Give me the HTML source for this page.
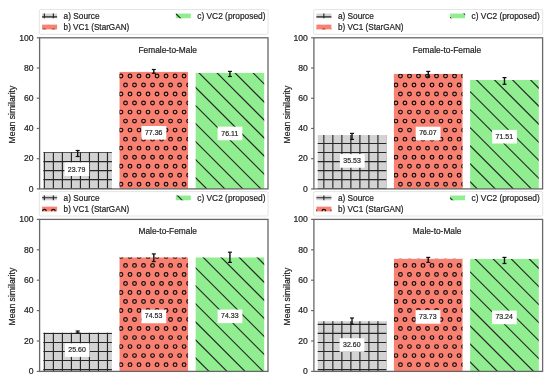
<!DOCTYPE html>
<html><head><meta charset="utf-8"><style>
html,body{margin:0;padding:0;background:#fff;}
svg{display:block;will-change:transform;}
text{font-family:"Liberation Sans",sans-serif;}
</style></head><body>
<svg width="550" height="378" viewBox="0 0 550 378">
<defs><clipPath id="c1"><rect x="42.1" y="13.55" width="15" height="4.7"/></clipPath><clipPath id="c2"><rect x="42.1" y="24.65" width="15" height="4.7"/></clipPath><clipPath id="c3"><rect x="175.8" y="13.55" width="15" height="4.7"/></clipPath><clipPath id="c4"><rect x="43.41" y="152.3" width="68.52" height="36.6"/></clipPath><clipPath id="c5"><rect x="119.54" y="71.9" width="68.52" height="117"/></clipPath><clipPath id="c6"><rect x="195.67" y="72.9" width="68.52" height="116"/></clipPath><clipPath id="c7"><rect x="316.4" y="13.55" width="15" height="4.7"/></clipPath><clipPath id="c8"><rect x="316.4" y="24.65" width="15" height="4.7"/></clipPath><clipPath id="c9"><rect x="450.1" y="13.55" width="15" height="4.7"/></clipPath><clipPath id="c10"><rect x="317.71" y="135.05" width="68.61" height="53.85"/></clipPath><clipPath id="c11"><rect x="393.94" y="73.9" width="68.61" height="115"/></clipPath><clipPath id="c12"><rect x="470.18" y="80" width="68.61" height="108.9"/></clipPath><clipPath id="c13"><rect x="42.1" y="195.55" width="15" height="4.7"/></clipPath><clipPath id="c14"><rect x="42.1" y="206.65" width="15" height="4.7"/></clipPath><clipPath id="c15"><rect x="175.8" y="195.55" width="15" height="4.7"/></clipPath><clipPath id="c16"><rect x="43.41" y="332.7" width="68.52" height="38.7"/></clipPath><clipPath id="c17"><rect x="119.54" y="257.5" width="68.52" height="113.9"/></clipPath><clipPath id="c18"><rect x="195.67" y="257.5" width="68.52" height="113.9"/></clipPath><clipPath id="c19"><rect x="316.4" y="195.55" width="15" height="4.7"/></clipPath><clipPath id="c20"><rect x="316.4" y="206.65" width="15" height="4.7"/></clipPath><clipPath id="c21"><rect x="450.1" y="195.55" width="15" height="4.7"/></clipPath><clipPath id="c22"><rect x="317.71" y="321.2" width="68.61" height="50.2"/></clipPath><clipPath id="c23"><rect x="393.94" y="258.85" width="68.61" height="112.55"/></clipPath><clipPath id="c24"><rect x="470.18" y="258.9" width="68.61" height="112.5"/></clipPath></defs>
<rect width="550" height="378" fill="#fff"/>
<rect x="39.3" y="9.6" width="228.8" height="24.7" rx="1.5" fill="#fff" stroke="#e4e4e4" stroke-width="1"/>
<rect x="42.1" y="13.55" width="15" height="4.7" fill="#d3d3d3"/><g clip-path="url(#c1)" stroke="#262626" stroke-width="1.15"><line x1="26.33" y1="11.55" x2="26.33" y2="20.25"/><line x1="35.34" y1="11.55" x2="35.34" y2="20.25"/><line x1="44.36" y1="11.55" x2="44.36" y2="20.25"/><line x1="53.38" y1="11.55" x2="53.38" y2="20.25"/><line x1="62.39" y1="11.55" x2="62.39" y2="20.25"/><line x1="71.41" y1="11.55" x2="71.41" y2="20.25"/><line x1="40.1" y1="-1.22" x2="59.1" y2="-1.22"/><line x1="40.1" y1="7.82" x2="59.1" y2="7.82"/><line x1="40.1" y1="16.87" x2="59.1" y2="16.87"/><line x1="40.1" y1="25.91" x2="59.1" y2="25.91"/><line x1="40.1" y1="34.95" x2="59.1" y2="34.95"/></g>
<text x="0" y="0" font-size="8.55" text-anchor="start" transform="translate(63.6 18.7) scale(0.9719 1)" fill="#222" stroke="#222" stroke-width="0.2">a) Source</text>
<rect x="42.1" y="24.65" width="15" height="4.7" fill="#fa8072"/><g clip-path="url(#c2)" stroke="#111" stroke-width="1.2" fill="none"><circle cx="39.85" cy="21.88" r="1.85"/><circle cx="48.87" cy="21.88" r="1.85"/><circle cx="57.88" cy="21.88" r="1.85"/><circle cx="44.36" cy="30.9" r="1.85"/><circle cx="53.38" cy="30.9" r="1.85"/></g>
<text x="0" y="0" font-size="8.55" text-anchor="start" transform="translate(63.6 29.8) scale(0.9543 1)" fill="#222" stroke="#222" stroke-width="0.2">b) VC1 (StarGAN)</text>
<rect x="175.8" y="13.55" width="15" height="4.7" fill="#90ee90"/><g clip-path="url(#c3)" stroke="#262626" stroke-width="1.15"><line x1="137.65" y1="11.55" x2="146.35" y2="20.25"/><line x1="155.68" y1="11.55" x2="164.38" y2="20.25"/><line x1="173.71" y1="11.55" x2="182.41" y2="20.25"/><line x1="191.74" y1="11.55" x2="200.44" y2="20.25"/><line x1="209.77" y1="11.55" x2="218.47" y2="20.25"/></g>
<text x="0" y="0" font-size="8.55" text-anchor="start" transform="translate(197.3 18.7) scale(0.9770 1)" fill="#222" stroke="#222" stroke-width="0.2">c) VC2 (proposed)</text>
<rect x="43.41" y="152.3" width="68.52" height="36.6" fill="#d3d3d3"/><g clip-path="url(#c4)" stroke="#262626" stroke-width="1.15"><line x1="26.33" y1="150.3" x2="26.33" y2="190.9"/><line x1="35.34" y1="150.3" x2="35.34" y2="190.9"/><line x1="44.36" y1="150.3" x2="44.36" y2="190.9"/><line x1="53.38" y1="150.3" x2="53.38" y2="190.9"/><line x1="62.39" y1="150.3" x2="62.39" y2="190.9"/><line x1="71.41" y1="150.3" x2="71.41" y2="190.9"/><line x1="80.42" y1="150.3" x2="80.42" y2="190.9"/><line x1="89.44" y1="150.3" x2="89.44" y2="190.9"/><line x1="98.45" y1="150.3" x2="98.45" y2="190.9"/><line x1="107.47" y1="150.3" x2="107.47" y2="190.9"/><line x1="116.48" y1="150.3" x2="116.48" y2="190.9"/><line x1="125.5" y1="150.3" x2="125.5" y2="190.9"/><line x1="41.41" y1="134.44" x2="113.93" y2="134.44"/><line x1="41.41" y1="143.48" x2="113.93" y2="143.48"/><line x1="41.41" y1="152.53" x2="113.93" y2="152.53"/><line x1="41.41" y1="161.57" x2="113.93" y2="161.57"/><line x1="41.41" y1="170.61" x2="113.93" y2="170.61"/><line x1="41.41" y1="179.66" x2="113.93" y2="179.66"/><line x1="41.41" y1="188.7" x2="113.93" y2="188.7"/><line x1="41.41" y1="197.75" x2="113.93" y2="197.75"/><line x1="41.41" y1="206.79" x2="113.93" y2="206.79"/></g>
<rect x="119.54" y="71.9" width="68.52" height="117" fill="#fa8072"/><g clip-path="url(#c5)" stroke="#111" stroke-width="1.2" fill="none"><circle cx="120.99" cy="76" r="1.85"/><circle cx="130" cy="76" r="1.85"/><circle cx="139.02" cy="76" r="1.85"/><circle cx="148.03" cy="76" r="1.85"/><circle cx="157.05" cy="76" r="1.85"/><circle cx="166.06" cy="76" r="1.85"/><circle cx="175.08" cy="76" r="1.85"/><circle cx="184.09" cy="76" r="1.85"/><circle cx="125.5" cy="85.02" r="1.85"/><circle cx="134.51" cy="85.02" r="1.85"/><circle cx="143.53" cy="85.02" r="1.85"/><circle cx="152.54" cy="85.02" r="1.85"/><circle cx="161.56" cy="85.02" r="1.85"/><circle cx="170.57" cy="85.02" r="1.85"/><circle cx="179.59" cy="85.02" r="1.85"/><circle cx="188.6" cy="85.02" r="1.85"/><circle cx="120.99" cy="94.04" r="1.85"/><circle cx="130" cy="94.04" r="1.85"/><circle cx="139.02" cy="94.04" r="1.85"/><circle cx="148.03" cy="94.04" r="1.85"/><circle cx="157.05" cy="94.04" r="1.85"/><circle cx="166.06" cy="94.04" r="1.85"/><circle cx="175.08" cy="94.04" r="1.85"/><circle cx="184.09" cy="94.04" r="1.85"/><circle cx="125.5" cy="103.06" r="1.85"/><circle cx="134.51" cy="103.06" r="1.85"/><circle cx="143.53" cy="103.06" r="1.85"/><circle cx="152.54" cy="103.06" r="1.85"/><circle cx="161.56" cy="103.06" r="1.85"/><circle cx="170.57" cy="103.06" r="1.85"/><circle cx="179.59" cy="103.06" r="1.85"/><circle cx="188.6" cy="103.06" r="1.85"/><circle cx="120.99" cy="112.08" r="1.85"/><circle cx="130" cy="112.08" r="1.85"/><circle cx="139.02" cy="112.08" r="1.85"/><circle cx="148.03" cy="112.08" r="1.85"/><circle cx="157.05" cy="112.08" r="1.85"/><circle cx="166.06" cy="112.08" r="1.85"/><circle cx="175.08" cy="112.08" r="1.85"/><circle cx="184.09" cy="112.08" r="1.85"/><circle cx="125.5" cy="121.1" r="1.85"/><circle cx="134.51" cy="121.1" r="1.85"/><circle cx="143.53" cy="121.1" r="1.85"/><circle cx="152.54" cy="121.1" r="1.85"/><circle cx="161.56" cy="121.1" r="1.85"/><circle cx="170.57" cy="121.1" r="1.85"/><circle cx="179.59" cy="121.1" r="1.85"/><circle cx="188.6" cy="121.1" r="1.85"/><circle cx="120.99" cy="130.12" r="1.85"/><circle cx="130" cy="130.12" r="1.85"/><circle cx="139.02" cy="130.12" r="1.85"/><circle cx="148.03" cy="130.12" r="1.85"/><circle cx="157.05" cy="130.12" r="1.85"/><circle cx="166.06" cy="130.12" r="1.85"/><circle cx="175.08" cy="130.12" r="1.85"/><circle cx="184.09" cy="130.12" r="1.85"/><circle cx="125.5" cy="139.14" r="1.85"/><circle cx="134.51" cy="139.14" r="1.85"/><circle cx="143.53" cy="139.14" r="1.85"/><circle cx="152.54" cy="139.14" r="1.85"/><circle cx="161.56" cy="139.14" r="1.85"/><circle cx="170.57" cy="139.14" r="1.85"/><circle cx="179.59" cy="139.14" r="1.85"/><circle cx="188.6" cy="139.14" r="1.85"/><circle cx="120.99" cy="148.16" r="1.85"/><circle cx="130" cy="148.16" r="1.85"/><circle cx="139.02" cy="148.16" r="1.85"/><circle cx="148.03" cy="148.16" r="1.85"/><circle cx="157.05" cy="148.16" r="1.85"/><circle cx="166.06" cy="148.16" r="1.85"/><circle cx="175.08" cy="148.16" r="1.85"/><circle cx="184.09" cy="148.16" r="1.85"/><circle cx="125.5" cy="157.18" r="1.85"/><circle cx="134.51" cy="157.18" r="1.85"/><circle cx="143.53" cy="157.18" r="1.85"/><circle cx="152.54" cy="157.18" r="1.85"/><circle cx="161.56" cy="157.18" r="1.85"/><circle cx="170.57" cy="157.18" r="1.85"/><circle cx="179.59" cy="157.18" r="1.85"/><circle cx="188.6" cy="157.18" r="1.85"/><circle cx="120.99" cy="166.2" r="1.85"/><circle cx="130" cy="166.2" r="1.85"/><circle cx="139.02" cy="166.2" r="1.85"/><circle cx="148.03" cy="166.2" r="1.85"/><circle cx="157.05" cy="166.2" r="1.85"/><circle cx="166.06" cy="166.2" r="1.85"/><circle cx="175.08" cy="166.2" r="1.85"/><circle cx="184.09" cy="166.2" r="1.85"/><circle cx="125.5" cy="175.22" r="1.85"/><circle cx="134.51" cy="175.22" r="1.85"/><circle cx="143.53" cy="175.22" r="1.85"/><circle cx="152.54" cy="175.22" r="1.85"/><circle cx="161.56" cy="175.22" r="1.85"/><circle cx="170.57" cy="175.22" r="1.85"/><circle cx="179.59" cy="175.22" r="1.85"/><circle cx="188.6" cy="175.22" r="1.85"/><circle cx="120.99" cy="184.24" r="1.85"/><circle cx="130" cy="184.24" r="1.85"/><circle cx="139.02" cy="184.24" r="1.85"/><circle cx="148.03" cy="184.24" r="1.85"/><circle cx="157.05" cy="184.24" r="1.85"/><circle cx="166.06" cy="184.24" r="1.85"/><circle cx="175.08" cy="184.24" r="1.85"/><circle cx="184.09" cy="184.24" r="1.85"/></g>
<rect x="195.67" y="72.9" width="68.52" height="116" fill="#90ee90"/><g clip-path="url(#c6)" stroke="#262626" stroke-width="1.15"><line x1="52.76" y1="70.9" x2="172.76" y2="190.9"/><line x1="70.79" y1="70.9" x2="190.79" y2="190.9"/><line x1="88.82" y1="70.9" x2="208.82" y2="190.9"/><line x1="106.85" y1="70.9" x2="226.85" y2="190.9"/><line x1="124.88" y1="70.9" x2="244.88" y2="190.9"/><line x1="142.91" y1="70.9" x2="262.91" y2="190.9"/><line x1="160.94" y1="70.9" x2="280.94" y2="190.9"/><line x1="178.97" y1="70.9" x2="298.97" y2="190.9"/><line x1="197" y1="70.9" x2="317" y2="190.9"/><line x1="215.03" y1="70.9" x2="335.03" y2="190.9"/><line x1="233.06" y1="70.9" x2="353.06" y2="190.9"/><line x1="251.09" y1="70.9" x2="371.09" y2="190.9"/><line x1="269.12" y1="70.9" x2="389.12" y2="190.9"/><line x1="287.15" y1="70.9" x2="407.15" y2="190.9"/></g>
<rect x="39.6" y="37.8" width="228.4" height="151.1" fill="none" stroke="#686868" stroke-width="1.3"/>
<line x1="36.8" y1="188.9" x2="39.6" y2="188.9" stroke="#686868" stroke-width="1.2"/>
<text x="0" y="0" font-size="8.55" text-anchor="end" transform="translate(33.6 191.65) scale(1.0090 1)" fill="#222" stroke="#222" stroke-width="0.2">0</text>
<line x1="36.8" y1="158.68" x2="39.6" y2="158.68" stroke="#686868" stroke-width="1.2"/>
<text x="0" y="0" font-size="8.55" text-anchor="end" transform="translate(33.6 161.43) scale(1.0090 1)" fill="#222" stroke="#222" stroke-width="0.2">20</text>
<line x1="36.8" y1="128.46" x2="39.6" y2="128.46" stroke="#686868" stroke-width="1.2"/>
<text x="0" y="0" font-size="8.55" text-anchor="end" transform="translate(33.6 131.21) scale(1.0090 1)" fill="#222" stroke="#222" stroke-width="0.2">40</text>
<line x1="36.8" y1="98.24" x2="39.6" y2="98.24" stroke="#686868" stroke-width="1.2"/>
<text x="0" y="0" font-size="8.55" text-anchor="end" transform="translate(33.6 100.99) scale(1.0090 1)" fill="#222" stroke="#222" stroke-width="0.2">60</text>
<line x1="36.8" y1="68.02" x2="39.6" y2="68.02" stroke="#686868" stroke-width="1.2"/>
<text x="0" y="0" font-size="8.55" text-anchor="end" transform="translate(33.6 70.77) scale(1.0090 1)" fill="#222" stroke="#222" stroke-width="0.2">80</text>
<line x1="36.8" y1="37.8" x2="39.6" y2="37.8" stroke="#686868" stroke-width="1.2"/>
<text x="0" y="0" font-size="8.55" text-anchor="end" transform="translate(33.6 40.55) scale(1.0090 1)" fill="#222" stroke="#222" stroke-width="0.2">100</text>
<text x="0" y="0" font-size="8.55" text-anchor="middle" transform="translate(15.3 114.55) rotate(-90) scale(1.0128 1)" fill="#222" stroke="#222" stroke-width="0.2">Mean similarity</text>
<text x="0" y="0" font-size="8.55" text-anchor="start" transform="translate(138.5 52.8) scale(0.9781 1)" fill="#222" stroke="#222" stroke-width="0.2">Female-to-Male</text>
<g stroke="#111" fill="none"><line x1="77.67" y1="150.5" x2="77.67" y2="156.5" stroke-width="1.4"/><line x1="75.67" y1="150.5" x2="79.67" y2="150.5" stroke-width="1.2"/><line x1="75.67" y1="156.5" x2="79.67" y2="156.5" stroke-width="1.2"/></g>
<rect x="64.4" y="162.4" width="24.8" height="13.6" fill="#fff"/>
<text x="0" y="0" font-size="6.92" text-anchor="middle" transform="translate(76.6 171.6) scale(1.0090 1)" fill="#262626" stroke="#262626" stroke-width="0.2">23.79</text>
<g stroke="#111" fill="none"><line x1="153.8" y1="69.5" x2="153.8" y2="73.3" stroke-width="1.4"/><line x1="151.8" y1="69.5" x2="155.8" y2="69.5" stroke-width="1.2"/><line x1="151.8" y1="73.3" x2="155.8" y2="73.3" stroke-width="1.2"/></g>
<rect x="141.5" y="126" width="24.8" height="13.6" fill="#fff"/>
<text x="0" y="0" font-size="6.92" text-anchor="middle" transform="translate(153.7 134.5) scale(1.0090 1)" fill="#262626" stroke="#262626" stroke-width="0.2">77.36</text>
<g stroke="#111" fill="none"><line x1="229.93" y1="71.4" x2="229.93" y2="76.5" stroke-width="1.4"/><line x1="227.93" y1="71.4" x2="231.93" y2="71.4" stroke-width="1.2"/><line x1="227.93" y1="76.5" x2="231.93" y2="76.5" stroke-width="1.2"/></g>
<rect x="217.6" y="126.65" width="24.8" height="13.6" fill="#fff"/>
<text x="0" y="0" font-size="6.92" text-anchor="middle" transform="translate(229.8 135.6) scale(1.0090 1)" fill="#262626" stroke="#262626" stroke-width="0.2">76.11</text>
<rect x="313.6" y="9.6" width="229.1" height="24.7" rx="1.5" fill="#fff" stroke="#e4e4e4" stroke-width="1"/>
<rect x="316.4" y="13.55" width="15" height="4.7" fill="#d3d3d3"/><g clip-path="url(#c7)" stroke="#262626" stroke-width="1.15"><line x1="305.8" y1="11.55" x2="305.8" y2="20.25"/><line x1="314.81" y1="11.55" x2="314.81" y2="20.25"/><line x1="323.83" y1="11.55" x2="323.83" y2="20.25"/><line x1="332.84" y1="11.55" x2="332.84" y2="20.25"/><line x1="341.86" y1="11.55" x2="341.86" y2="20.25"/><line x1="314.4" y1="-1.22" x2="333.4" y2="-1.22"/><line x1="314.4" y1="7.82" x2="333.4" y2="7.82"/><line x1="314.4" y1="16.87" x2="333.4" y2="16.87"/><line x1="314.4" y1="25.91" x2="333.4" y2="25.91"/><line x1="314.4" y1="34.95" x2="333.4" y2="34.95"/></g>
<text x="0" y="0" font-size="8.55" text-anchor="start" transform="translate(337.9 18.7) scale(0.9719 1)" fill="#222" stroke="#222" stroke-width="0.2">a) Source</text>
<rect x="316.4" y="24.65" width="15" height="4.7" fill="#fa8072"/><g clip-path="url(#c8)" stroke="#111" stroke-width="1.2" fill="none"><circle cx="319.32" cy="21.88" r="1.85"/><circle cx="328.33" cy="21.88" r="1.85"/><circle cx="314.81" cy="30.9" r="1.85"/><circle cx="323.83" cy="30.9" r="1.85"/><circle cx="332.84" cy="30.9" r="1.85"/></g>
<text x="0" y="0" font-size="8.55" text-anchor="start" transform="translate(337.9 29.8) scale(0.9543 1)" fill="#222" stroke="#222" stroke-width="0.2">b) VC1 (StarGAN)</text>
<rect x="450.1" y="13.55" width="15" height="4.7" fill="#90ee90"/><g clip-path="url(#c9)" stroke="#262626" stroke-width="1.15"><line x1="408.1" y1="11.55" x2="416.8" y2="20.25"/><line x1="426.13" y1="11.55" x2="434.83" y2="20.25"/><line x1="444.16" y1="11.55" x2="452.86" y2="20.25"/><line x1="462.19" y1="11.55" x2="470.89" y2="20.25"/><line x1="480.22" y1="11.55" x2="488.92" y2="20.25"/><line x1="498.25" y1="11.55" x2="506.95" y2="20.25"/></g>
<text x="0" y="0" font-size="8.55" text-anchor="start" transform="translate(471.6 18.7) scale(0.9770 1)" fill="#222" stroke="#222" stroke-width="0.2">c) VC2 (proposed)</text>
<rect x="317.71" y="135.05" width="68.61" height="53.85" fill="#d3d3d3"/><g clip-path="url(#c10)" stroke="#262626" stroke-width="1.15"><line x1="305.8" y1="133.05" x2="305.8" y2="190.9"/><line x1="314.81" y1="133.05" x2="314.81" y2="190.9"/><line x1="323.83" y1="133.05" x2="323.83" y2="190.9"/><line x1="332.84" y1="133.05" x2="332.84" y2="190.9"/><line x1="341.86" y1="133.05" x2="341.86" y2="190.9"/><line x1="350.87" y1="133.05" x2="350.87" y2="190.9"/><line x1="359.89" y1="133.05" x2="359.89" y2="190.9"/><line x1="368.9" y1="133.05" x2="368.9" y2="190.9"/><line x1="377.92" y1="133.05" x2="377.92" y2="190.9"/><line x1="386.93" y1="133.05" x2="386.93" y2="190.9"/><line x1="395.95" y1="133.05" x2="395.95" y2="190.9"/><line x1="315.71" y1="125.39" x2="388.32" y2="125.39"/><line x1="315.71" y1="134.44" x2="388.32" y2="134.44"/><line x1="315.71" y1="143.48" x2="388.32" y2="143.48"/><line x1="315.71" y1="152.53" x2="388.32" y2="152.53"/><line x1="315.71" y1="161.57" x2="388.32" y2="161.57"/><line x1="315.71" y1="170.61" x2="388.32" y2="170.61"/><line x1="315.71" y1="179.66" x2="388.32" y2="179.66"/><line x1="315.71" y1="188.7" x2="388.32" y2="188.7"/><line x1="315.71" y1="197.75" x2="388.32" y2="197.75"/><line x1="315.71" y1="206.79" x2="388.32" y2="206.79"/></g>
<rect x="393.94" y="73.9" width="68.61" height="115" fill="#fa8072"/><g clip-path="url(#c11)" stroke="#111" stroke-width="1.2" fill="none"><circle cx="391.44" cy="76" r="1.85"/><circle cx="400.45" cy="76" r="1.85"/><circle cx="409.47" cy="76" r="1.85"/><circle cx="418.48" cy="76" r="1.85"/><circle cx="427.5" cy="76" r="1.85"/><circle cx="436.51" cy="76" r="1.85"/><circle cx="445.53" cy="76" r="1.85"/><circle cx="454.54" cy="76" r="1.85"/><circle cx="463.56" cy="76" r="1.85"/><circle cx="395.95" cy="85.02" r="1.85"/><circle cx="404.96" cy="85.02" r="1.85"/><circle cx="413.98" cy="85.02" r="1.85"/><circle cx="422.99" cy="85.02" r="1.85"/><circle cx="432.01" cy="85.02" r="1.85"/><circle cx="441.02" cy="85.02" r="1.85"/><circle cx="450.04" cy="85.02" r="1.85"/><circle cx="459.05" cy="85.02" r="1.85"/><circle cx="391.44" cy="94.04" r="1.85"/><circle cx="400.45" cy="94.04" r="1.85"/><circle cx="409.47" cy="94.04" r="1.85"/><circle cx="418.48" cy="94.04" r="1.85"/><circle cx="427.5" cy="94.04" r="1.85"/><circle cx="436.51" cy="94.04" r="1.85"/><circle cx="445.53" cy="94.04" r="1.85"/><circle cx="454.54" cy="94.04" r="1.85"/><circle cx="463.56" cy="94.04" r="1.85"/><circle cx="395.95" cy="103.06" r="1.85"/><circle cx="404.96" cy="103.06" r="1.85"/><circle cx="413.98" cy="103.06" r="1.85"/><circle cx="422.99" cy="103.06" r="1.85"/><circle cx="432.01" cy="103.06" r="1.85"/><circle cx="441.02" cy="103.06" r="1.85"/><circle cx="450.04" cy="103.06" r="1.85"/><circle cx="459.05" cy="103.06" r="1.85"/><circle cx="391.44" cy="112.08" r="1.85"/><circle cx="400.45" cy="112.08" r="1.85"/><circle cx="409.47" cy="112.08" r="1.85"/><circle cx="418.48" cy="112.08" r="1.85"/><circle cx="427.5" cy="112.08" r="1.85"/><circle cx="436.51" cy="112.08" r="1.85"/><circle cx="445.53" cy="112.08" r="1.85"/><circle cx="454.54" cy="112.08" r="1.85"/><circle cx="463.56" cy="112.08" r="1.85"/><circle cx="395.95" cy="121.1" r="1.85"/><circle cx="404.96" cy="121.1" r="1.85"/><circle cx="413.98" cy="121.1" r="1.85"/><circle cx="422.99" cy="121.1" r="1.85"/><circle cx="432.01" cy="121.1" r="1.85"/><circle cx="441.02" cy="121.1" r="1.85"/><circle cx="450.04" cy="121.1" r="1.85"/><circle cx="459.05" cy="121.1" r="1.85"/><circle cx="391.44" cy="130.12" r="1.85"/><circle cx="400.45" cy="130.12" r="1.85"/><circle cx="409.47" cy="130.12" r="1.85"/><circle cx="418.48" cy="130.12" r="1.85"/><circle cx="427.5" cy="130.12" r="1.85"/><circle cx="436.51" cy="130.12" r="1.85"/><circle cx="445.53" cy="130.12" r="1.85"/><circle cx="454.54" cy="130.12" r="1.85"/><circle cx="463.56" cy="130.12" r="1.85"/><circle cx="395.95" cy="139.14" r="1.85"/><circle cx="404.96" cy="139.14" r="1.85"/><circle cx="413.98" cy="139.14" r="1.85"/><circle cx="422.99" cy="139.14" r="1.85"/><circle cx="432.01" cy="139.14" r="1.85"/><circle cx="441.02" cy="139.14" r="1.85"/><circle cx="450.04" cy="139.14" r="1.85"/><circle cx="459.05" cy="139.14" r="1.85"/><circle cx="391.44" cy="148.16" r="1.85"/><circle cx="400.45" cy="148.16" r="1.85"/><circle cx="409.47" cy="148.16" r="1.85"/><circle cx="418.48" cy="148.16" r="1.85"/><circle cx="427.5" cy="148.16" r="1.85"/><circle cx="436.51" cy="148.16" r="1.85"/><circle cx="445.53" cy="148.16" r="1.85"/><circle cx="454.54" cy="148.16" r="1.85"/><circle cx="463.56" cy="148.16" r="1.85"/><circle cx="395.95" cy="157.18" r="1.85"/><circle cx="404.96" cy="157.18" r="1.85"/><circle cx="413.98" cy="157.18" r="1.85"/><circle cx="422.99" cy="157.18" r="1.85"/><circle cx="432.01" cy="157.18" r="1.85"/><circle cx="441.02" cy="157.18" r="1.85"/><circle cx="450.04" cy="157.18" r="1.85"/><circle cx="459.05" cy="157.18" r="1.85"/><circle cx="391.44" cy="166.2" r="1.85"/><circle cx="400.45" cy="166.2" r="1.85"/><circle cx="409.47" cy="166.2" r="1.85"/><circle cx="418.48" cy="166.2" r="1.85"/><circle cx="427.5" cy="166.2" r="1.85"/><circle cx="436.51" cy="166.2" r="1.85"/><circle cx="445.53" cy="166.2" r="1.85"/><circle cx="454.54" cy="166.2" r="1.85"/><circle cx="463.56" cy="166.2" r="1.85"/><circle cx="395.95" cy="175.22" r="1.85"/><circle cx="404.96" cy="175.22" r="1.85"/><circle cx="413.98" cy="175.22" r="1.85"/><circle cx="422.99" cy="175.22" r="1.85"/><circle cx="432.01" cy="175.22" r="1.85"/><circle cx="441.02" cy="175.22" r="1.85"/><circle cx="450.04" cy="175.22" r="1.85"/><circle cx="459.05" cy="175.22" r="1.85"/><circle cx="391.44" cy="184.24" r="1.85"/><circle cx="400.45" cy="184.24" r="1.85"/><circle cx="409.47" cy="184.24" r="1.85"/><circle cx="418.48" cy="184.24" r="1.85"/><circle cx="427.5" cy="184.24" r="1.85"/><circle cx="436.51" cy="184.24" r="1.85"/><circle cx="445.53" cy="184.24" r="1.85"/><circle cx="454.54" cy="184.24" r="1.85"/><circle cx="463.56" cy="184.24" r="1.85"/></g>
<rect x="470.18" y="80" width="68.61" height="108.9" fill="#90ee90"/><g clip-path="url(#c12)" stroke="#262626" stroke-width="1.15"><line x1="330.31" y1="78" x2="443.21" y2="190.9"/><line x1="348.34" y1="78" x2="461.24" y2="190.9"/><line x1="366.37" y1="78" x2="479.27" y2="190.9"/><line x1="384.4" y1="78" x2="497.3" y2="190.9"/><line x1="402.43" y1="78" x2="515.33" y2="190.9"/><line x1="420.46" y1="78" x2="533.36" y2="190.9"/><line x1="438.49" y1="78" x2="551.39" y2="190.9"/><line x1="456.52" y1="78" x2="569.42" y2="190.9"/><line x1="474.55" y1="78" x2="587.45" y2="190.9"/><line x1="492.58" y1="78" x2="605.48" y2="190.9"/><line x1="510.61" y1="78" x2="623.51" y2="190.9"/><line x1="528.64" y1="78" x2="641.54" y2="190.9"/><line x1="546.67" y1="78" x2="659.57" y2="190.9"/><line x1="564.7" y1="78" x2="677.6" y2="190.9"/></g>
<rect x="313.9" y="37.8" width="228.7" height="151.1" fill="none" stroke="#686868" stroke-width="1.3"/>
<line x1="311.1" y1="188.9" x2="313.9" y2="188.9" stroke="#686868" stroke-width="1.2"/>
<text x="0" y="0" font-size="8.55" text-anchor="end" transform="translate(307.9 191.65) scale(1.0090 1)" fill="#222" stroke="#222" stroke-width="0.2">0</text>
<line x1="311.1" y1="158.68" x2="313.9" y2="158.68" stroke="#686868" stroke-width="1.2"/>
<text x="0" y="0" font-size="8.55" text-anchor="end" transform="translate(307.9 161.43) scale(1.0090 1)" fill="#222" stroke="#222" stroke-width="0.2">20</text>
<line x1="311.1" y1="128.46" x2="313.9" y2="128.46" stroke="#686868" stroke-width="1.2"/>
<text x="0" y="0" font-size="8.55" text-anchor="end" transform="translate(307.9 131.21) scale(1.0090 1)" fill="#222" stroke="#222" stroke-width="0.2">40</text>
<line x1="311.1" y1="98.24" x2="313.9" y2="98.24" stroke="#686868" stroke-width="1.2"/>
<text x="0" y="0" font-size="8.55" text-anchor="end" transform="translate(307.9 100.99) scale(1.0090 1)" fill="#222" stroke="#222" stroke-width="0.2">60</text>
<line x1="311.1" y1="68.02" x2="313.9" y2="68.02" stroke="#686868" stroke-width="1.2"/>
<text x="0" y="0" font-size="8.55" text-anchor="end" transform="translate(307.9 70.77) scale(1.0090 1)" fill="#222" stroke="#222" stroke-width="0.2">80</text>
<line x1="311.1" y1="37.8" x2="313.9" y2="37.8" stroke="#686868" stroke-width="1.2"/>
<text x="0" y="0" font-size="8.55" text-anchor="end" transform="translate(307.9 40.55) scale(1.0090 1)" fill="#222" stroke="#222" stroke-width="0.2">100</text>
<text x="0" y="0" font-size="8.55" text-anchor="middle" transform="translate(289.6 114.55) rotate(-90) scale(1.0128 1)" fill="#222" stroke="#222" stroke-width="0.2">Mean similarity</text>
<text x="0" y="0" font-size="8.55" text-anchor="start" transform="translate(412.8 52.8) scale(0.9789 1)" fill="#222" stroke="#222" stroke-width="0.2">Female-to-Female</text>
<g stroke="#111" fill="none"><line x1="352.02" y1="133.4" x2="352.02" y2="139.4" stroke-width="1.4"/><line x1="350.02" y1="133.4" x2="354.02" y2="133.4" stroke-width="1.2"/><line x1="350.02" y1="139.4" x2="354.02" y2="139.4" stroke-width="1.2"/></g>
<rect x="339.85" y="154.1" width="24.8" height="13.6" fill="#fff"/>
<text x="0" y="0" font-size="6.92" text-anchor="middle" transform="translate(352.05 163.3) scale(1.0090 1)" fill="#262626" stroke="#262626" stroke-width="0.2">35.53</text>
<g stroke="#111" fill="none"><line x1="428.25" y1="71.4" x2="428.25" y2="77" stroke-width="1.4"/><line x1="426.25" y1="71.4" x2="430.25" y2="71.4" stroke-width="1.2"/><line x1="426.25" y1="77" x2="430.25" y2="77" stroke-width="1.2"/></g>
<rect x="415.7" y="126.7" width="24.8" height="13.6" fill="#fff"/>
<text x="0" y="0" font-size="6.92" text-anchor="middle" transform="translate(427.9 135.3) scale(1.0090 1)" fill="#262626" stroke="#262626" stroke-width="0.2">76.07</text>
<g stroke="#111" fill="none"><line x1="504.48" y1="77.6" x2="504.48" y2="84.3" stroke-width="1.4"/><line x1="502.48" y1="77.6" x2="506.48" y2="77.6" stroke-width="1.2"/><line x1="502.48" y1="84.3" x2="506.48" y2="84.3" stroke-width="1.2"/></g>
<rect x="492.1" y="129.9" width="24.8" height="13.6" fill="#fff"/>
<text x="0" y="0" font-size="6.92" text-anchor="middle" transform="translate(504.3 138.8) scale(1.0090 1)" fill="#262626" stroke="#262626" stroke-width="0.2">71.51</text>
<rect x="39.3" y="191.6" width="228.8" height="24.4" rx="1.5" fill="#fff" stroke="#e4e4e4" stroke-width="1"/>
<rect x="42.1" y="195.55" width="15" height="4.7" fill="#d3d3d3"/><g clip-path="url(#c13)" stroke="#262626" stroke-width="1.15"><line x1="26.33" y1="193.55" x2="26.33" y2="202.25"/><line x1="35.34" y1="193.55" x2="35.34" y2="202.25"/><line x1="44.36" y1="193.55" x2="44.36" y2="202.25"/><line x1="53.38" y1="193.55" x2="53.38" y2="202.25"/><line x1="62.39" y1="193.55" x2="62.39" y2="202.25"/><line x1="71.41" y1="193.55" x2="71.41" y2="202.25"/><line x1="40.1" y1="179.66" x2="59.1" y2="179.66"/><line x1="40.1" y1="188.7" x2="59.1" y2="188.7"/><line x1="40.1" y1="197.75" x2="59.1" y2="197.75"/><line x1="40.1" y1="206.79" x2="59.1" y2="206.79"/><line x1="40.1" y1="215.83" x2="59.1" y2="215.83"/></g>
<text x="0" y="0" font-size="8.55" text-anchor="start" transform="translate(63.6 200.7) scale(0.9719 1)" fill="#222" stroke="#222" stroke-width="0.2">a) Source</text>
<rect x="42.1" y="206.65" width="15" height="4.7" fill="#fa8072"/><g clip-path="url(#c14)" stroke="#111" stroke-width="1.2" fill="none"><circle cx="44.36" cy="211.3" r="1.85"/><circle cx="53.38" cy="211.3" r="1.85"/></g>
<text x="0" y="0" font-size="8.55" text-anchor="start" transform="translate(63.6 211.8) scale(0.9543 1)" fill="#222" stroke="#222" stroke-width="0.2">b) VC1 (StarGAN)</text>
<rect x="175.8" y="195.55" width="15" height="4.7" fill="#90ee90"/><g clip-path="url(#c15)" stroke="#262626" stroke-width="1.15"><line x1="139.35" y1="193.55" x2="148.05" y2="202.25"/><line x1="157.38" y1="193.55" x2="166.08" y2="202.25"/><line x1="175.41" y1="193.55" x2="184.11" y2="202.25"/><line x1="193.44" y1="193.55" x2="202.14" y2="202.25"/><line x1="211.47" y1="193.55" x2="220.17" y2="202.25"/></g>
<text x="0" y="0" font-size="8.55" text-anchor="start" transform="translate(197.3 200.7) scale(0.9770 1)" fill="#222" stroke="#222" stroke-width="0.2">c) VC2 (proposed)</text>
<rect x="43.41" y="332.7" width="68.52" height="38.7" fill="#d3d3d3"/><g clip-path="url(#c16)" stroke="#262626" stroke-width="1.15"><line x1="26.33" y1="330.7" x2="26.33" y2="373.4"/><line x1="35.34" y1="330.7" x2="35.34" y2="373.4"/><line x1="44.36" y1="330.7" x2="44.36" y2="373.4"/><line x1="53.38" y1="330.7" x2="53.38" y2="373.4"/><line x1="62.39" y1="330.7" x2="62.39" y2="373.4"/><line x1="71.41" y1="330.7" x2="71.41" y2="373.4"/><line x1="80.42" y1="330.7" x2="80.42" y2="373.4"/><line x1="89.44" y1="330.7" x2="89.44" y2="373.4"/><line x1="98.45" y1="330.7" x2="98.45" y2="373.4"/><line x1="107.47" y1="330.7" x2="107.47" y2="373.4"/><line x1="116.48" y1="330.7" x2="116.48" y2="373.4"/><line x1="125.5" y1="330.7" x2="125.5" y2="373.4"/><line x1="41.41" y1="315.32" x2="113.93" y2="315.32"/><line x1="41.41" y1="324.36" x2="113.93" y2="324.36"/><line x1="41.41" y1="333.41" x2="113.93" y2="333.41"/><line x1="41.41" y1="342.45" x2="113.93" y2="342.45"/><line x1="41.41" y1="351.49" x2="113.93" y2="351.49"/><line x1="41.41" y1="360.54" x2="113.93" y2="360.54"/><line x1="41.41" y1="369.58" x2="113.93" y2="369.58"/><line x1="41.41" y1="378.63" x2="113.93" y2="378.63"/><line x1="41.41" y1="387.67" x2="113.93" y2="387.67"/></g>
<rect x="119.54" y="257.5" width="68.52" height="113.9" fill="#fa8072"/><g clip-path="url(#c17)" stroke="#111" stroke-width="1.2" fill="none"><circle cx="120.99" cy="256.4" r="1.85"/><circle cx="130" cy="256.4" r="1.85"/><circle cx="139.02" cy="256.4" r="1.85"/><circle cx="148.03" cy="256.4" r="1.85"/><circle cx="157.05" cy="256.4" r="1.85"/><circle cx="166.06" cy="256.4" r="1.85"/><circle cx="175.08" cy="256.4" r="1.85"/><circle cx="184.09" cy="256.4" r="1.85"/><circle cx="125.5" cy="265.42" r="1.85"/><circle cx="134.51" cy="265.42" r="1.85"/><circle cx="143.53" cy="265.42" r="1.85"/><circle cx="152.54" cy="265.42" r="1.85"/><circle cx="161.56" cy="265.42" r="1.85"/><circle cx="170.57" cy="265.42" r="1.85"/><circle cx="179.59" cy="265.42" r="1.85"/><circle cx="188.6" cy="265.42" r="1.85"/><circle cx="120.99" cy="274.44" r="1.85"/><circle cx="130" cy="274.44" r="1.85"/><circle cx="139.02" cy="274.44" r="1.85"/><circle cx="148.03" cy="274.44" r="1.85"/><circle cx="157.05" cy="274.44" r="1.85"/><circle cx="166.06" cy="274.44" r="1.85"/><circle cx="175.08" cy="274.44" r="1.85"/><circle cx="184.09" cy="274.44" r="1.85"/><circle cx="125.5" cy="283.46" r="1.85"/><circle cx="134.51" cy="283.46" r="1.85"/><circle cx="143.53" cy="283.46" r="1.85"/><circle cx="152.54" cy="283.46" r="1.85"/><circle cx="161.56" cy="283.46" r="1.85"/><circle cx="170.57" cy="283.46" r="1.85"/><circle cx="179.59" cy="283.46" r="1.85"/><circle cx="188.6" cy="283.46" r="1.85"/><circle cx="120.99" cy="292.48" r="1.85"/><circle cx="130" cy="292.48" r="1.85"/><circle cx="139.02" cy="292.48" r="1.85"/><circle cx="148.03" cy="292.48" r="1.85"/><circle cx="157.05" cy="292.48" r="1.85"/><circle cx="166.06" cy="292.48" r="1.85"/><circle cx="175.08" cy="292.48" r="1.85"/><circle cx="184.09" cy="292.48" r="1.85"/><circle cx="125.5" cy="301.5" r="1.85"/><circle cx="134.51" cy="301.5" r="1.85"/><circle cx="143.53" cy="301.5" r="1.85"/><circle cx="152.54" cy="301.5" r="1.85"/><circle cx="161.56" cy="301.5" r="1.85"/><circle cx="170.57" cy="301.5" r="1.85"/><circle cx="179.59" cy="301.5" r="1.85"/><circle cx="188.6" cy="301.5" r="1.85"/><circle cx="120.99" cy="310.52" r="1.85"/><circle cx="130" cy="310.52" r="1.85"/><circle cx="139.02" cy="310.52" r="1.85"/><circle cx="148.03" cy="310.52" r="1.85"/><circle cx="157.05" cy="310.52" r="1.85"/><circle cx="166.06" cy="310.52" r="1.85"/><circle cx="175.08" cy="310.52" r="1.85"/><circle cx="184.09" cy="310.52" r="1.85"/><circle cx="125.5" cy="319.54" r="1.85"/><circle cx="134.51" cy="319.54" r="1.85"/><circle cx="143.53" cy="319.54" r="1.85"/><circle cx="152.54" cy="319.54" r="1.85"/><circle cx="161.56" cy="319.54" r="1.85"/><circle cx="170.57" cy="319.54" r="1.85"/><circle cx="179.59" cy="319.54" r="1.85"/><circle cx="188.6" cy="319.54" r="1.85"/><circle cx="120.99" cy="328.56" r="1.85"/><circle cx="130" cy="328.56" r="1.85"/><circle cx="139.02" cy="328.56" r="1.85"/><circle cx="148.03" cy="328.56" r="1.85"/><circle cx="157.05" cy="328.56" r="1.85"/><circle cx="166.06" cy="328.56" r="1.85"/><circle cx="175.08" cy="328.56" r="1.85"/><circle cx="184.09" cy="328.56" r="1.85"/><circle cx="125.5" cy="337.58" r="1.85"/><circle cx="134.51" cy="337.58" r="1.85"/><circle cx="143.53" cy="337.58" r="1.85"/><circle cx="152.54" cy="337.58" r="1.85"/><circle cx="161.56" cy="337.58" r="1.85"/><circle cx="170.57" cy="337.58" r="1.85"/><circle cx="179.59" cy="337.58" r="1.85"/><circle cx="188.6" cy="337.58" r="1.85"/><circle cx="120.99" cy="346.6" r="1.85"/><circle cx="130" cy="346.6" r="1.85"/><circle cx="139.02" cy="346.6" r="1.85"/><circle cx="148.03" cy="346.6" r="1.85"/><circle cx="157.05" cy="346.6" r="1.85"/><circle cx="166.06" cy="346.6" r="1.85"/><circle cx="175.08" cy="346.6" r="1.85"/><circle cx="184.09" cy="346.6" r="1.85"/><circle cx="125.5" cy="355.62" r="1.85"/><circle cx="134.51" cy="355.62" r="1.85"/><circle cx="143.53" cy="355.62" r="1.85"/><circle cx="152.54" cy="355.62" r="1.85"/><circle cx="161.56" cy="355.62" r="1.85"/><circle cx="170.57" cy="355.62" r="1.85"/><circle cx="179.59" cy="355.62" r="1.85"/><circle cx="188.6" cy="355.62" r="1.85"/><circle cx="120.99" cy="364.64" r="1.85"/><circle cx="130" cy="364.64" r="1.85"/><circle cx="139.02" cy="364.64" r="1.85"/><circle cx="148.03" cy="364.64" r="1.85"/><circle cx="157.05" cy="364.64" r="1.85"/><circle cx="166.06" cy="364.64" r="1.85"/><circle cx="175.08" cy="364.64" r="1.85"/><circle cx="184.09" cy="364.64" r="1.85"/><circle cx="125.5" cy="373.66" r="1.85"/><circle cx="134.51" cy="373.66" r="1.85"/><circle cx="143.53" cy="373.66" r="1.85"/><circle cx="152.54" cy="373.66" r="1.85"/><circle cx="161.56" cy="373.66" r="1.85"/><circle cx="170.57" cy="373.66" r="1.85"/><circle cx="179.59" cy="373.66" r="1.85"/><circle cx="188.6" cy="373.66" r="1.85"/></g>
<rect x="195.67" y="257.5" width="68.52" height="113.9" fill="#90ee90"/><g clip-path="url(#c18)" stroke="#262626" stroke-width="1.15"><line x1="57.06" y1="255.5" x2="174.96" y2="373.4"/><line x1="75.09" y1="255.5" x2="192.99" y2="373.4"/><line x1="93.12" y1="255.5" x2="211.02" y2="373.4"/><line x1="111.15" y1="255.5" x2="229.05" y2="373.4"/><line x1="129.18" y1="255.5" x2="247.08" y2="373.4"/><line x1="147.21" y1="255.5" x2="265.11" y2="373.4"/><line x1="165.24" y1="255.5" x2="283.14" y2="373.4"/><line x1="183.27" y1="255.5" x2="301.17" y2="373.4"/><line x1="201.3" y1="255.5" x2="319.2" y2="373.4"/><line x1="219.33" y1="255.5" x2="337.23" y2="373.4"/><line x1="237.36" y1="255.5" x2="355.26" y2="373.4"/><line x1="255.39" y1="255.5" x2="373.29" y2="373.4"/><line x1="273.42" y1="255.5" x2="391.32" y2="373.4"/><line x1="291.45" y1="255.5" x2="409.35" y2="373.4"/></g>
<rect x="39.6" y="219.4" width="228.4" height="152" fill="none" stroke="#686868" stroke-width="1.3"/>
<line x1="36.8" y1="371.4" x2="39.6" y2="371.4" stroke="#686868" stroke-width="1.2"/>
<text x="0" y="0" font-size="8.55" text-anchor="end" transform="translate(33.6 374.15) scale(1.0090 1)" fill="#222" stroke="#222" stroke-width="0.2">0</text>
<line x1="36.8" y1="341" x2="39.6" y2="341" stroke="#686868" stroke-width="1.2"/>
<text x="0" y="0" font-size="8.55" text-anchor="end" transform="translate(33.6 343.75) scale(1.0090 1)" fill="#222" stroke="#222" stroke-width="0.2">20</text>
<line x1="36.8" y1="310.6" x2="39.6" y2="310.6" stroke="#686868" stroke-width="1.2"/>
<text x="0" y="0" font-size="8.55" text-anchor="end" transform="translate(33.6 313.35) scale(1.0090 1)" fill="#222" stroke="#222" stroke-width="0.2">40</text>
<line x1="36.8" y1="280.2" x2="39.6" y2="280.2" stroke="#686868" stroke-width="1.2"/>
<text x="0" y="0" font-size="8.55" text-anchor="end" transform="translate(33.6 282.95) scale(1.0090 1)" fill="#222" stroke="#222" stroke-width="0.2">60</text>
<line x1="36.8" y1="249.8" x2="39.6" y2="249.8" stroke="#686868" stroke-width="1.2"/>
<text x="0" y="0" font-size="8.55" text-anchor="end" transform="translate(33.6 252.55) scale(1.0090 1)" fill="#222" stroke="#222" stroke-width="0.2">80</text>
<line x1="36.8" y1="219.4" x2="39.6" y2="219.4" stroke="#686868" stroke-width="1.2"/>
<text x="0" y="0" font-size="8.55" text-anchor="end" transform="translate(33.6 222.15) scale(1.0090 1)" fill="#222" stroke="#222" stroke-width="0.2">100</text>
<text x="0" y="0" font-size="8.55" text-anchor="middle" transform="translate(15.3 296.6) rotate(-90) scale(1.0128 1)" fill="#222" stroke="#222" stroke-width="0.2">Mean similarity</text>
<text x="0" y="0" font-size="8.55" text-anchor="start" transform="translate(138.5 234.4) scale(0.9781 1)" fill="#222" stroke="#222" stroke-width="0.2">Male-to-Female</text>
<g stroke="#111" fill="none"><line x1="77.67" y1="331" x2="77.67" y2="332.9" stroke-width="1.4"/><line x1="75.67" y1="331" x2="79.67" y2="331" stroke-width="1.2"/><line x1="75.67" y1="332.9" x2="79.67" y2="332.9" stroke-width="1.2"/></g>
<rect x="64.85" y="343.3" width="24.8" height="13.6" fill="#fff"/>
<text x="0" y="0" font-size="6.92" text-anchor="middle" transform="translate(77.05 351.6) scale(1.0090 1)" fill="#262626" stroke="#262626" stroke-width="0.2">25.60</text>
<g stroke="#111" fill="none"><line x1="153.8" y1="253.9" x2="153.8" y2="261.5" stroke-width="1.4"/><line x1="151.8" y1="253.9" x2="155.8" y2="253.9" stroke-width="1.2"/><line x1="151.8" y1="261.5" x2="155.8" y2="261.5" stroke-width="1.2"/></g>
<rect x="141.4" y="309.65" width="24.8" height="13.6" fill="#fff"/>
<text x="0" y="0" font-size="6.92" text-anchor="middle" transform="translate(153.6 318.2) scale(1.0090 1)" fill="#262626" stroke="#262626" stroke-width="0.2">74.53</text>
<g stroke="#111" fill="none"><line x1="229.93" y1="252.2" x2="229.93" y2="262.4" stroke-width="1.4"/><line x1="227.93" y1="252.2" x2="231.93" y2="252.2" stroke-width="1.2"/><line x1="227.93" y1="262.4" x2="231.93" y2="262.4" stroke-width="1.2"/></g>
<rect x="217.6" y="309.55" width="24.8" height="13.6" fill="#fff"/>
<text x="0" y="0" font-size="6.92" text-anchor="middle" transform="translate(229.8 317.8) scale(1.0090 1)" fill="#262626" stroke="#262626" stroke-width="0.2">74.33</text>
<rect x="313.6" y="191.6" width="229.1" height="24.4" rx="1.5" fill="#fff" stroke="#e4e4e4" stroke-width="1"/>
<rect x="316.4" y="195.55" width="15" height="4.7" fill="#d3d3d3"/><g clip-path="url(#c19)" stroke="#262626" stroke-width="1.15"><line x1="305.8" y1="193.55" x2="305.8" y2="202.25"/><line x1="314.81" y1="193.55" x2="314.81" y2="202.25"/><line x1="323.83" y1="193.55" x2="323.83" y2="202.25"/><line x1="332.84" y1="193.55" x2="332.84" y2="202.25"/><line x1="341.86" y1="193.55" x2="341.86" y2="202.25"/><line x1="314.4" y1="179.66" x2="333.4" y2="179.66"/><line x1="314.4" y1="188.7" x2="333.4" y2="188.7"/><line x1="314.4" y1="197.75" x2="333.4" y2="197.75"/><line x1="314.4" y1="206.79" x2="333.4" y2="206.79"/><line x1="314.4" y1="215.83" x2="333.4" y2="215.83"/></g>
<text x="0" y="0" font-size="8.55" text-anchor="start" transform="translate(337.9 200.7) scale(0.9719 1)" fill="#222" stroke="#222" stroke-width="0.2">a) Source</text>
<rect x="316.4" y="206.65" width="15" height="4.7" fill="#fa8072"/><g clip-path="url(#c20)" stroke="#111" stroke-width="1.2" fill="none"><circle cx="314.81" cy="211.3" r="1.85"/><circle cx="323.83" cy="211.3" r="1.85"/><circle cx="332.84" cy="211.3" r="1.85"/></g>
<text x="0" y="0" font-size="8.55" text-anchor="start" transform="translate(337.9 211.8) scale(0.9543 1)" fill="#222" stroke="#222" stroke-width="0.2">b) VC1 (StarGAN)</text>
<rect x="450.1" y="195.55" width="15" height="4.7" fill="#90ee90"/><g clip-path="url(#c21)" stroke="#262626" stroke-width="1.15"><line x1="409.8" y1="193.55" x2="418.5" y2="202.25"/><line x1="427.83" y1="193.55" x2="436.53" y2="202.25"/><line x1="445.86" y1="193.55" x2="454.56" y2="202.25"/><line x1="463.89" y1="193.55" x2="472.59" y2="202.25"/><line x1="481.92" y1="193.55" x2="490.62" y2="202.25"/></g>
<text x="0" y="0" font-size="8.55" text-anchor="start" transform="translate(471.6 200.7) scale(0.9770 1)" fill="#222" stroke="#222" stroke-width="0.2">c) VC2 (proposed)</text>
<rect x="317.71" y="321.2" width="68.61" height="50.2" fill="#d3d3d3"/><g clip-path="url(#c22)" stroke="#262626" stroke-width="1.15"><line x1="305.8" y1="319.2" x2="305.8" y2="373.4"/><line x1="314.81" y1="319.2" x2="314.81" y2="373.4"/><line x1="323.83" y1="319.2" x2="323.83" y2="373.4"/><line x1="332.84" y1="319.2" x2="332.84" y2="373.4"/><line x1="341.86" y1="319.2" x2="341.86" y2="373.4"/><line x1="350.87" y1="319.2" x2="350.87" y2="373.4"/><line x1="359.89" y1="319.2" x2="359.89" y2="373.4"/><line x1="368.9" y1="319.2" x2="368.9" y2="373.4"/><line x1="377.92" y1="319.2" x2="377.92" y2="373.4"/><line x1="386.93" y1="319.2" x2="386.93" y2="373.4"/><line x1="395.95" y1="319.2" x2="395.95" y2="373.4"/><line x1="315.71" y1="306.27" x2="388.32" y2="306.27"/><line x1="315.71" y1="315.32" x2="388.32" y2="315.32"/><line x1="315.71" y1="324.36" x2="388.32" y2="324.36"/><line x1="315.71" y1="333.41" x2="388.32" y2="333.41"/><line x1="315.71" y1="342.45" x2="388.32" y2="342.45"/><line x1="315.71" y1="351.49" x2="388.32" y2="351.49"/><line x1="315.71" y1="360.54" x2="388.32" y2="360.54"/><line x1="315.71" y1="369.58" x2="388.32" y2="369.58"/><line x1="315.71" y1="378.63" x2="388.32" y2="378.63"/><line x1="315.71" y1="387.67" x2="388.32" y2="387.67"/></g>
<rect x="393.94" y="258.85" width="68.61" height="112.55" fill="#fa8072"/><g clip-path="url(#c23)" stroke="#111" stroke-width="1.2" fill="none"><circle cx="391.44" cy="256.4" r="1.85"/><circle cx="400.45" cy="256.4" r="1.85"/><circle cx="409.47" cy="256.4" r="1.85"/><circle cx="418.48" cy="256.4" r="1.85"/><circle cx="427.5" cy="256.4" r="1.85"/><circle cx="436.51" cy="256.4" r="1.85"/><circle cx="445.53" cy="256.4" r="1.85"/><circle cx="454.54" cy="256.4" r="1.85"/><circle cx="463.56" cy="256.4" r="1.85"/><circle cx="395.95" cy="265.42" r="1.85"/><circle cx="404.96" cy="265.42" r="1.85"/><circle cx="413.98" cy="265.42" r="1.85"/><circle cx="422.99" cy="265.42" r="1.85"/><circle cx="432.01" cy="265.42" r="1.85"/><circle cx="441.02" cy="265.42" r="1.85"/><circle cx="450.04" cy="265.42" r="1.85"/><circle cx="459.05" cy="265.42" r="1.85"/><circle cx="391.44" cy="274.44" r="1.85"/><circle cx="400.45" cy="274.44" r="1.85"/><circle cx="409.47" cy="274.44" r="1.85"/><circle cx="418.48" cy="274.44" r="1.85"/><circle cx="427.5" cy="274.44" r="1.85"/><circle cx="436.51" cy="274.44" r="1.85"/><circle cx="445.53" cy="274.44" r="1.85"/><circle cx="454.54" cy="274.44" r="1.85"/><circle cx="463.56" cy="274.44" r="1.85"/><circle cx="395.95" cy="283.46" r="1.85"/><circle cx="404.96" cy="283.46" r="1.85"/><circle cx="413.98" cy="283.46" r="1.85"/><circle cx="422.99" cy="283.46" r="1.85"/><circle cx="432.01" cy="283.46" r="1.85"/><circle cx="441.02" cy="283.46" r="1.85"/><circle cx="450.04" cy="283.46" r="1.85"/><circle cx="459.05" cy="283.46" r="1.85"/><circle cx="391.44" cy="292.48" r="1.85"/><circle cx="400.45" cy="292.48" r="1.85"/><circle cx="409.47" cy="292.48" r="1.85"/><circle cx="418.48" cy="292.48" r="1.85"/><circle cx="427.5" cy="292.48" r="1.85"/><circle cx="436.51" cy="292.48" r="1.85"/><circle cx="445.53" cy="292.48" r="1.85"/><circle cx="454.54" cy="292.48" r="1.85"/><circle cx="463.56" cy="292.48" r="1.85"/><circle cx="395.95" cy="301.5" r="1.85"/><circle cx="404.96" cy="301.5" r="1.85"/><circle cx="413.98" cy="301.5" r="1.85"/><circle cx="422.99" cy="301.5" r="1.85"/><circle cx="432.01" cy="301.5" r="1.85"/><circle cx="441.02" cy="301.5" r="1.85"/><circle cx="450.04" cy="301.5" r="1.85"/><circle cx="459.05" cy="301.5" r="1.85"/><circle cx="391.44" cy="310.52" r="1.85"/><circle cx="400.45" cy="310.52" r="1.85"/><circle cx="409.47" cy="310.52" r="1.85"/><circle cx="418.48" cy="310.52" r="1.85"/><circle cx="427.5" cy="310.52" r="1.85"/><circle cx="436.51" cy="310.52" r="1.85"/><circle cx="445.53" cy="310.52" r="1.85"/><circle cx="454.54" cy="310.52" r="1.85"/><circle cx="463.56" cy="310.52" r="1.85"/><circle cx="395.95" cy="319.54" r="1.85"/><circle cx="404.96" cy="319.54" r="1.85"/><circle cx="413.98" cy="319.54" r="1.85"/><circle cx="422.99" cy="319.54" r="1.85"/><circle cx="432.01" cy="319.54" r="1.85"/><circle cx="441.02" cy="319.54" r="1.85"/><circle cx="450.04" cy="319.54" r="1.85"/><circle cx="459.05" cy="319.54" r="1.85"/><circle cx="391.44" cy="328.56" r="1.85"/><circle cx="400.45" cy="328.56" r="1.85"/><circle cx="409.47" cy="328.56" r="1.85"/><circle cx="418.48" cy="328.56" r="1.85"/><circle cx="427.5" cy="328.56" r="1.85"/><circle cx="436.51" cy="328.56" r="1.85"/><circle cx="445.53" cy="328.56" r="1.85"/><circle cx="454.54" cy="328.56" r="1.85"/><circle cx="463.56" cy="328.56" r="1.85"/><circle cx="395.95" cy="337.58" r="1.85"/><circle cx="404.96" cy="337.58" r="1.85"/><circle cx="413.98" cy="337.58" r="1.85"/><circle cx="422.99" cy="337.58" r="1.85"/><circle cx="432.01" cy="337.58" r="1.85"/><circle cx="441.02" cy="337.58" r="1.85"/><circle cx="450.04" cy="337.58" r="1.85"/><circle cx="459.05" cy="337.58" r="1.85"/><circle cx="391.44" cy="346.6" r="1.85"/><circle cx="400.45" cy="346.6" r="1.85"/><circle cx="409.47" cy="346.6" r="1.85"/><circle cx="418.48" cy="346.6" r="1.85"/><circle cx="427.5" cy="346.6" r="1.85"/><circle cx="436.51" cy="346.6" r="1.85"/><circle cx="445.53" cy="346.6" r="1.85"/><circle cx="454.54" cy="346.6" r="1.85"/><circle cx="463.56" cy="346.6" r="1.85"/><circle cx="395.95" cy="355.62" r="1.85"/><circle cx="404.96" cy="355.62" r="1.85"/><circle cx="413.98" cy="355.62" r="1.85"/><circle cx="422.99" cy="355.62" r="1.85"/><circle cx="432.01" cy="355.62" r="1.85"/><circle cx="441.02" cy="355.62" r="1.85"/><circle cx="450.04" cy="355.62" r="1.85"/><circle cx="459.05" cy="355.62" r="1.85"/><circle cx="391.44" cy="364.64" r="1.85"/><circle cx="400.45" cy="364.64" r="1.85"/><circle cx="409.47" cy="364.64" r="1.85"/><circle cx="418.48" cy="364.64" r="1.85"/><circle cx="427.5" cy="364.64" r="1.85"/><circle cx="436.51" cy="364.64" r="1.85"/><circle cx="445.53" cy="364.64" r="1.85"/><circle cx="454.54" cy="364.64" r="1.85"/><circle cx="463.56" cy="364.64" r="1.85"/><circle cx="395.95" cy="373.66" r="1.85"/><circle cx="404.96" cy="373.66" r="1.85"/><circle cx="413.98" cy="373.66" r="1.85"/><circle cx="422.99" cy="373.66" r="1.85"/><circle cx="432.01" cy="373.66" r="1.85"/><circle cx="441.02" cy="373.66" r="1.85"/><circle cx="450.04" cy="373.66" r="1.85"/><circle cx="459.05" cy="373.66" r="1.85"/></g>
<rect x="470.18" y="258.9" width="68.61" height="112.5" fill="#90ee90"/><g clip-path="url(#c24)" stroke="#262626" stroke-width="1.15"><line x1="328.91" y1="256.9" x2="445.41" y2="373.4"/><line x1="346.94" y1="256.9" x2="463.44" y2="373.4"/><line x1="364.97" y1="256.9" x2="481.47" y2="373.4"/><line x1="383" y1="256.9" x2="499.5" y2="373.4"/><line x1="401.03" y1="256.9" x2="517.53" y2="373.4"/><line x1="419.06" y1="256.9" x2="535.56" y2="373.4"/><line x1="437.09" y1="256.9" x2="553.59" y2="373.4"/><line x1="455.12" y1="256.9" x2="571.62" y2="373.4"/><line x1="473.15" y1="256.9" x2="589.65" y2="373.4"/><line x1="491.18" y1="256.9" x2="607.68" y2="373.4"/><line x1="509.21" y1="256.9" x2="625.71" y2="373.4"/><line x1="527.24" y1="256.9" x2="643.74" y2="373.4"/><line x1="545.27" y1="256.9" x2="661.77" y2="373.4"/><line x1="563.3" y1="256.9" x2="679.8" y2="373.4"/></g>
<rect x="313.9" y="219.4" width="228.7" height="152" fill="none" stroke="#686868" stroke-width="1.3"/>
<line x1="311.1" y1="371.4" x2="313.9" y2="371.4" stroke="#686868" stroke-width="1.2"/>
<text x="0" y="0" font-size="8.55" text-anchor="end" transform="translate(307.9 374.15) scale(1.0090 1)" fill="#222" stroke="#222" stroke-width="0.2">0</text>
<line x1="311.1" y1="341" x2="313.9" y2="341" stroke="#686868" stroke-width="1.2"/>
<text x="0" y="0" font-size="8.55" text-anchor="end" transform="translate(307.9 343.75) scale(1.0090 1)" fill="#222" stroke="#222" stroke-width="0.2">20</text>
<line x1="311.1" y1="310.6" x2="313.9" y2="310.6" stroke="#686868" stroke-width="1.2"/>
<text x="0" y="0" font-size="8.55" text-anchor="end" transform="translate(307.9 313.35) scale(1.0090 1)" fill="#222" stroke="#222" stroke-width="0.2">40</text>
<line x1="311.1" y1="280.2" x2="313.9" y2="280.2" stroke="#686868" stroke-width="1.2"/>
<text x="0" y="0" font-size="8.55" text-anchor="end" transform="translate(307.9 282.95) scale(1.0090 1)" fill="#222" stroke="#222" stroke-width="0.2">60</text>
<line x1="311.1" y1="249.8" x2="313.9" y2="249.8" stroke="#686868" stroke-width="1.2"/>
<text x="0" y="0" font-size="8.55" text-anchor="end" transform="translate(307.9 252.55) scale(1.0090 1)" fill="#222" stroke="#222" stroke-width="0.2">80</text>
<line x1="311.1" y1="219.4" x2="313.9" y2="219.4" stroke="#686868" stroke-width="1.2"/>
<text x="0" y="0" font-size="8.55" text-anchor="end" transform="translate(307.9 222.15) scale(1.0090 1)" fill="#222" stroke="#222" stroke-width="0.2">100</text>
<text x="0" y="0" font-size="8.55" text-anchor="middle" transform="translate(289.6 296.6) rotate(-90) scale(1.0128 1)" fill="#222" stroke="#222" stroke-width="0.2">Mean similarity</text>
<text x="0" y="0" font-size="8.55" text-anchor="start" transform="translate(412.8 234.4) scale(0.9769 1)" fill="#222" stroke="#222" stroke-width="0.2">Male-to-Male</text>
<g stroke="#111" fill="none"><line x1="352.02" y1="318" x2="352.02" y2="324.3" stroke-width="1.4"/><line x1="350.02" y1="318" x2="354.02" y2="318" stroke-width="1.2"/><line x1="350.02" y1="324.3" x2="354.02" y2="324.3" stroke-width="1.2"/></g>
<rect x="339.6" y="338.2" width="24.8" height="13.6" fill="#fff"/>
<text x="0" y="0" font-size="6.92" text-anchor="middle" transform="translate(351.8 347.4) scale(1.0090 1)" fill="#262626" stroke="#262626" stroke-width="0.2">32.60</text>
<g stroke="#111" fill="none"><line x1="428.25" y1="257.4" x2="428.25" y2="262.4" stroke-width="1.4"/><line x1="426.25" y1="257.4" x2="430.25" y2="257.4" stroke-width="1.2"/><line x1="426.25" y1="262.4" x2="430.25" y2="262.4" stroke-width="1.2"/></g>
<rect x="415.6" y="310.1" width="24.8" height="13.6" fill="#fff"/>
<text x="0" y="0" font-size="6.92" text-anchor="middle" transform="translate(427.8 318.5) scale(1.0090 1)" fill="#262626" stroke="#262626" stroke-width="0.2">73.73</text>
<g stroke="#111" fill="none"><line x1="504.48" y1="257.4" x2="504.48" y2="263.5" stroke-width="1.4"/><line x1="502.48" y1="257.4" x2="506.48" y2="257.4" stroke-width="1.2"/><line x1="502.48" y1="263.5" x2="506.48" y2="263.5" stroke-width="1.2"/></g>
<rect x="491.95" y="310.6" width="24.8" height="13.6" fill="#fff"/>
<text x="0" y="0" font-size="6.92" text-anchor="middle" transform="translate(504.15 318.8) scale(1.0090 1)" fill="#262626" stroke="#262626" stroke-width="0.2">73.24</text>
</svg></body></html>
